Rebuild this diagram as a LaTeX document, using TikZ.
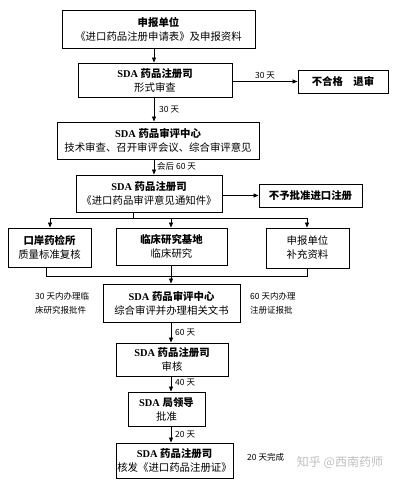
\documentclass[tikz,border=0pt]{standalone}
\usepackage{fontspec}
\setmainfont{Liberation Serif}
\newfontfamily\cjk{Noto Sans CJK SC}
\usetikzlibrary{arrows.meta}
\newcommand{\sda}{{\rmfamily\bfseries SDA }}
\begin{document}
\begin{tikzpicture}[x=1pt,y=-1pt,
  box/.style={draw, line width=0.9pt, inner sep=0pt, align=center,
    font=\cjk\fontsize{10.4}{14}\selectfont},
  arr/.style={-{Triangle[length=5pt,width=4pt]}, line width=0.8pt},
  ln/.style={line width=0.8pt},
  lab/.style={font=\cjk\fontsize{8.5}{11}\selectfont, inner sep=0pt},
  side/.style={font=\cjk\fontsize{8.5}{14}\selectfont, inner sep=0pt, align=left}]
\useasboundingbox[fill=white] (0,0) rectangle (400,489);
% spines
\coordinate (vx) at (154,0);
\coordinate (vy) at (171,0);
\node[box, minimum width=193, minimum height=38] (b1) at (158.5,29)
  {\bfseries 申报单位\\《进口药品注册申请表》及申报资料};
\node[box, minimum width=154, minimum height=34] (b2) at (155,80)
  {\sda\bfseries 药品注册司\\形式审查};
\node[box, minimum width=90, minimum height=23] (b3) at (343,81.5)
  {\bfseries 不合格\quad 退审};
\node[box, minimum width=202, minimum height=37] (b4) at (158,140.5)
  {\sda\bfseries 药品审评中心\\技术审查、召开审评会议、综合审评意见};
\node[box, minimum width=146, minimum height=37] (b5) at (149,193.5)
  {\sda\bfseries 药品注册司\\《进口药品审评意见通知件》};
\node[box, minimum width=103, minimum height=23] (b6) at (310.5,195.5)
  {\bfseries 不予批准进口注册};
\node[box, minimum width=83, minimum height=39] (b7) at (49.5,247.5)
  {\bfseries 口岸药检所\\质量标准复核};
\node[box, minimum width=111, minimum height=37] (b8) at (171.5,246.5)
  {\bfseries 临床研究基地\\临床研究};
\node[box, minimum width=83, minimum height=40] (b9) at (307.5,248)
  {申报单位\\补充资料};
\node[box, minimum width=137, minimum height=38] (b10) at (171.5,303)
  {\sda\bfseries 药品审评中心\\综合审评并办理相关文书};
\node[box, minimum width=112, minimum height=33] (b11) at (172,359.5)
  {\sda\bfseries 药品注册司\\审核};
\node[box, minimum width=77, minimum height=34] (b12) at (166.5,409)
  {\sda\bfseries 局领导\\批准};
\node[box, minimum width=117, minimum height=35] (b13) at (174.5,460.5)
  {\sda\bfseries 药品注册司\\核发《进口药品注册证》};
% connectors
\draw[arr] (b1.south -| vx) -- (b2.north -| vx);
\draw[arr] (b2.east |- b3.west) -- (b3.west);
\node[lab, anchor=south] (l1) at (265,79) {30 天};
\draw[arr] (b2.south -| vx) -- (b4.north -| vx);
\node[lab, anchor=west] (l2) at (159,110) {30 天};
\draw[arr] (b4.south -| vx) -- (b5.north -| vx);
\node[lab, anchor=west] (l3) at (157,166) {会后 60 天};
\draw[arr] (b5.east |- b6.west) -- (b6.west);
% branch
\coordinate (bx) at (133,218);
\coordinate (bl) at (50,218);
\coordinate (br) at (307,218);
\draw[ln] (b5.south -| bx) -- (bx);
\draw[ln] (bl) -- (br);
\draw[arr] (bl) -- (b7.north -| bl);
\draw[arr] (bx -| vy) -- (b8.north -| vy);
\draw[arr] (br) -- (b9.north -| br);
% merge
\coordinate (ml) at (46,276);
\coordinate (mr) at (307,276);
\draw[ln] (b7.south -| ml) -- (ml) -- (mr) -- (b9.south -| mr);
\draw[arr] (b8.south -| vy) -- (b10.north -| vy);
\node[side, anchor=west] (s1) at (35,303) {30 天内办理临\\床研究报批件};
\node[side, anchor=west] (s2) at (250,303) {60 天内办理\\注册证报批};
\draw[arr] (b10.south -| vy) -- (b11.north -| vy);
\node[lab, anchor=west] (l4) at (175,333) {60 天};
\draw[arr] (b11.south -| vy) -- (b12.north -| vy);
\node[lab, anchor=west] (l5) at (175,383) {40 天};
\draw[arr] (b12.south -| vy) -- (b13.north -| vy);
\node[lab, anchor=west] (l6) at (175,435) {20 天};
\node[lab, anchor=west] (s3) at (247,457) {20 天完成};
\node[font=\cjk\fontsize{12}{13}\selectfont, text=black!25, inner sep=0pt] (wm) at (340,462) {知乎 @西南药师};
\end{tikzpicture}
\end{document}
